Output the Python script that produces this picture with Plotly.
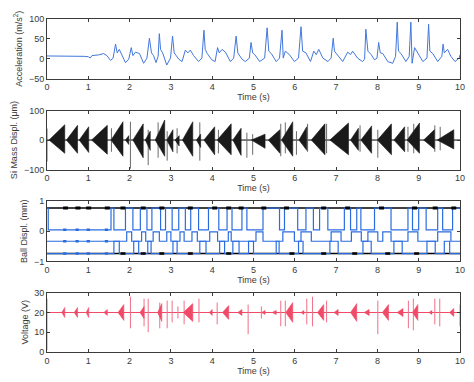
import plotly.graph_objects as go

# ---------------- Panel 1: acceleration (m/s^2) ----------------
acc_t = [0.00, 0.30, 0.60, 0.90, 1.00, 1.05, 1.09, 1.25, 1.37, 1.45,
         1.54, 1.60, 1.66, 1.70, 1.75, 1.82, 1.90, 1.98, 2.04, 2.08,
         2.14, 2.24, 2.34, 2.42, 2.48, 2.53, 2.58, 2.64, 2.69, 2.72,
         2.75, 2.80, 2.90, 2.99, 3.04, 3.08, 3.12, 3.19, 3.27, 3.35,
         3.41, 3.47, 3.55, 3.67, 3.75, 3.80, 3.83, 3.88, 3.99, 4.07,
         4.13, 4.17, 4.24, 4.32, 4.44, 4.52, 4.58, 4.62, 4.72, 4.80,
         4.90, 4.94, 4.98, 5.03, 5.15, 5.27, 5.33, 5.37, 5.43, 5.55,
         5.63, 5.69, 5.72, 5.77, 5.87, 5.99, 6.09, 6.15, 6.19, 6.27,
         6.38, 6.46, 6.52, 6.58, 6.68, 6.80, 6.88, 6.93, 6.96, 7.02,
         7.16, 7.28, 7.35, 7.40, 7.52, 7.64, 7.69, 7.72, 7.77, 7.85,
         7.93, 7.99, 8.03, 8.07, 8.13, 8.25, 8.37, 8.44, 8.48, 8.51,
         8.57, 8.69, 8.77, 8.81, 8.84, 8.90, 8.98, 9.10, 9.20, 9.24,
         9.27, 9.34, 9.46, 9.56, 9.59, 9.62, 9.70, 9.78, 9.88, 9.98,
         10.0]
acc_v = [7.0, 7.0, 6.5, 6.0, 5.0, 2.0, 8.0, 9.6, 13.0, 8.0,
         -4.4, 1.6, 36.7, 14.8, 23.6, 7.8, -9.8, -1.0, 28.0, 7.8,
         16.5, 13.1, -11.5, 1.6, 51.6, 14.8, 7.8, -9.8, 6.0, 63.1,
         23.6, 14.8, -15.9, 1.6, 56.9, 14.8, 7.8, -1.0, -7.1, 21.8,
         14.8, 21.8, 7.8, -7.1, 1.6, 71.8, 23.6, 13.1, -2.7, -7.1,
         28.0, 14.8, 23.6, 16.5, -7.1, 1.6, 56.9, 14.8, -1.0, -7.1,
         1.6, 41.0, 14.8, 10.4, -7.1, 1.6, 77.9, 19.2, 13.1, -7.1,
         1.6, 71.8, 1.6, 19.2, 10.4, -7.1, 1.6, 80.6, 19.2, 14.8,
         -7.1, 19.2, 10.4, 23.6, 1.6, -7.1, 1.6, 51.6, 19.2, 10.4,
         -7.1, 16.5, 10.4, 19.2, 1.6, -7.1, -1.0, 74.4, 19.2, 10.4,
         -2.7, 1.6, 41.1, 14.8, 13.1, -7.1, -11.5, 6.0, 92.0, 19.2,
         13.1, -7.1, 6.0, 92.0, -11.5, 28.0, 14.8, -7.1, 1.6, 86.8,
         19.2, 13.1, -7.1, 6.0, 36.7, 14.8, 23.6, 6.0, -7.1, 1.6,
         10.0]

# ---------------- Panel 2: Si mass displacement (um) ----------------
si_start = [0.05, 0.47, 0.78, 1.08, 1.55, 1.90, 2.08, 2.38, 2.62, 2.90,
            3.10, 3.28, 3.62, 3.80, 4.12, 4.50, 4.95, 5.36, 5.68, 6.10,
            6.40, 6.85, 7.35, 7.60, 8.00, 8.40, 8.72, 9.12, 9.45]
si_peak = [0.43, 0.74, 1.01, 1.46, 1.84, 1.98, 2.33, 2.50, 2.85, 3.05,
           3.20, 3.53, 3.72, 4.06, 4.46, 4.70, 5.28, 5.64, 5.95, 6.29,
           6.73, 7.30, 7.54, 7.86, 8.34, 8.66, 9.02, 9.38, 9.85]
si_up = [52, 50, 45, 50, 62, 15, 55, 30, 68, 35,
         15, 62, 20, 45, 55, 40, 20, 35, 62, 45,
         55, 58, 40, 48, 55, 45, 58, 35, 35]
si_low = [-45, -45, -42, -48, -55, -15, -60, -35, -55, -40,
          -20, -55, -25, -50, -50, -52, -28, -45, -55, -35,
          -50, -50, -35, -45, -50, -40, -45, -30, -30]
si_spk_t = [0.00, 1.56, 2.02, 2.45, 2.69, 2.91, 3.15, 3.70, 4.15, 4.84,
            4.98, 5.66, 5.77, 6.04, 6.31, 6.77, 7.58, 8.01, 8.74, 8.88,
            9.39, 9.52]
si_spk_top = [39, 40, 62, 35, 60, 30, 40, 60, 35, 25,
              20, 55, 60, 30, 55, 55, 50, 35, 45, 55,
              50, 45]
si_spk_bot = [-73, -40, -97, -85, -60, -70, -45, -70, -45, -60,
              -50, -55, -45, -50, -40, -45, -40, -60, -40, -45,
              -40, -35]

# ---------------- Panel 3: ball displacement (mm) ----------------
wall_top, wall_bot = 0.77, -0.74
ball1_t = [0.00, 0.03, 1.55, 1.62, 1.90, 2.08, 2.26, 2.42, 2.54, 2.75,
           2.87, 3.03, 3.19, 3.35, 3.48, 3.67, 3.91, 4.16, 4.36, 4.48,
           4.72, 4.84, 5.23, 5.63, 5.75, 6.07, 6.27, 6.45, 6.60, 6.80,
           7.20, 7.35, 7.50, 7.60, 7.93, 8.33, 8.74, 8.85, 9.00, 9.18,
           9.46, 9.58, 9.82, 10.0]
ball1_y = [0.77, 0.05, 0.77, 0.05, 0.77, 0.05, 0.77, 0.05, 0.77, 0.05,
           0.77, 0.05, 0.77, 0.05, 0.77, 0.05, 0.77, 0.05, 0.77, 0.05,
           0.77, 0.05, 0.77, 0.05, 0.77, 0.05, 0.77, 0.05, 0.77, 0.05,
           0.77, 0.05, 0.77, 0.05, 0.77, 0.05, 0.77, 0.05, 0.77, 0.05,
           0.77, 0.05, 0.77, 0.77]
ball2_t = [0.00, 1.93, 2.05, 2.29, 2.39, 2.57, 2.72, 2.90, 3.00, 3.22,
           3.32, 3.51, 3.64, 3.94, 4.13, 4.39, 4.46, 5.06, 5.23, 5.71,
           5.99, 6.15, 6.40, 6.88, 7.12, 7.37, 7.61, 7.77, 8.01, 8.13,
           8.33, 8.74, 8.98, 9.46, 9.78, 10.0]
ball2_y = [-0.33, -0.02, -0.33, -0.02, -0.33, -0.02, -0.33, -0.02, -0.33, -0.02,
           -0.33, -0.02, -0.33, -0.02, -0.33, -0.02, -0.33, -0.02, -0.33, -0.02,
           -0.33, -0.02, -0.33, -0.02, -0.33, -0.02, -0.33, -0.02, -0.33, -0.02,
           -0.33, -0.02, -0.33, -0.02, -0.33, -0.33]
ball3_t = [0.00, 1.62, 1.75, 2.10, 2.22, 2.44, 2.52, 3.05, 3.15, 3.70,
           3.85, 4.18, 4.30, 4.50, 4.65, 4.88, 5.00, 5.55, 5.62, 6.09,
           6.20, 6.85, 7.05, 7.65, 7.85, 8.40, 8.60, 9.20, 9.40, 9.62,
           9.75, 10.0]
ball3_y = [-0.74, -0.33, -0.74, -0.33, -0.74, -0.33, -0.74, -0.33, -0.74, -0.33,
           -0.74, -0.33, -0.74, -0.33, -0.74, -0.33, -0.74, -0.33, -0.74, -0.33,
           -0.74, -0.33, -0.74, -0.33, -0.74, -0.33, -0.74, -0.33, -0.74, -0.33,
           -0.74, -0.74]
top_beads = [0.45, 0.75, 1.01, 1.46, 1.84, 2.33, 2.78, 3.47, 4.06, 4.40,
             4.70, 5.25, 5.80, 6.70, 7.28, 8.10, 8.90, 9.40, 9.85]
bot_beads = [1.84, 2.33, 2.78, 3.47, 4.40, 5.93, 6.70, 7.45, 8.25, 8.95]
blue_beads = [0.43, 0.73, 1.00, 1.44]

# ---------------- Panel 4: voltage (V) ----------------
v_base = 20
v_start = [0.36, 0.66, 0.95, 1.38, 1.72, 2.25, 2.68, 3.30, 3.93, 4.25,
           4.62, 5.20, 5.45, 5.78, 6.15, 6.55, 6.95, 7.35, 7.68, 8.12,
           8.48, 8.85, 9.25, 9.75]
v_peak = [0.43, 0.74, 1.01, 1.46, 1.86, 2.35, 2.78, 3.53, 4.00, 4.40,
          4.72, 5.28, 5.55, 5.95, 6.22, 6.70, 7.05, 7.50, 7.80, 8.27,
          8.62, 8.98, 9.32, 9.85]
v_amp = [2.5, 2.5, 2.5, 1.5, 4.0, 3.0, 4.5, 4.5, 1.5, 3.5,
         1.5, 1.0, 1.0, 5.0, 1.0, 4.0, 1.5, 4.5, 1.5, 4.0,
         2.0, 4.0, 1.0, 2.0]
v_spk_t = [0.00, 2.02, 2.35, 2.45, 2.73, 2.91, 3.03, 3.17, 3.32, 3.68,
           4.12, 4.87, 5.19, 5.66, 5.77, 6.29, 6.43, 6.77, 8.01, 8.75,
           8.87, 9.39, 9.51, 10.0]
v_spk_top = [27, 28, 27, 27, 25, 26, 26, 23, 26, 27,
             25, 24, 23, 26, 26, 27, 28, 26, 26, 26,
             27, 27, 27, 24]
v_spk_bot = [1, 12, 13, 10, 12, 12, 15, 17, 14, 15,
             14, 9, 17, 13, 13, 14, 13, 15, 9, 12,
             11, 14, 13, 13]

x_ticks = [0, 1, 2, 3, 4, 5, 6, 7, 8, 9, 10]
y_titles = ["Acceleration (m/s<sup>2</sup>)", "Si Mass Displ. (μm)",
            "Ball Displ. (mm)", "Voltage (V)"]
y_ranges = [[-50, 100], [-100, 100], [-1, 1], [0, 30]]
y_ticks = [[-50, 0, 50, 100], [-100, 0, 100], [-1, 0, 1], [0, 10, 20, 30]]
domains = [[0.821, 1.0], [0.548, 0.725], [0.272, 0.453], [0.0, 0.178]]

BLUE = "#4277dc"
BALL = "#2a6ce0"
RED = "#f04a68"


def tri_polys(starts, peaks, ups, lows, base):
    xs, ys = [], []
    for s, p, u, l in zip(starts, peaks, ups, lows):
        xs += [s, p, p, s, None]
        ys += [base, base + u, base + l, base, None]
    return xs, ys


def segs(ts, tops, bots):
    xs, ys = [], []
    for t, a, b in zip(ts, tops, bots):
        xs += [t, t, None]
        ys += [b, a, None]
    return xs, ys


def beads(ts, level, half=0.06):
    xs, ys = [], []
    for t in ts:
        xs += [t - half, t + half, None]
        ys += [level, level, None]
    return xs, ys


fig = go.Figure()

# panel 1
fig.add_trace(go.Scatter(x=acc_t, y=acc_v, mode="lines",
                         line=dict(color=BLUE, width=1), xaxis="x", yaxis="y"))

# panel 2
fig.add_trace(go.Scatter(x=[0, 10], y=[0, 0], mode="lines",
                         line=dict(color="black", width=1), xaxis="x2", yaxis="y2"))
sx, sy = segs(si_spk_t, si_spk_top, si_spk_bot)
fig.add_trace(go.Scatter(x=sx, y=sy, mode="lines",
                         line=dict(color="#6a6a6a", width=1), xaxis="x2", yaxis="y2"))
px_, py_ = tri_polys(si_start, si_peak, si_up, si_low, 0)
fig.add_trace(go.Scatter(x=px_, y=py_, mode="lines", fill="toself",
                         fillcolor="#1a1a1a", line=dict(color="#1a1a1a", width=0.6),
                         xaxis="x2", yaxis="y2"))

# panel 3
fig.add_trace(go.Scatter(x=[0, 10], y=[wall_top, wall_top], mode="lines",
                         line=dict(color="black", width=1.5), xaxis="x3", yaxis="y3"))
fig.add_trace(go.Scatter(x=[0, 10], y=[wall_bot, wall_bot], mode="lines",
                         line=dict(color="black", width=1.5), xaxis="x3", yaxis="y3"))
for bt, by in [(ball1_t, ball1_y), (ball2_t, ball2_y), (ball3_t, ball3_y)]:
    fig.add_trace(go.Scatter(x=bt, y=by, mode="lines", line_shape="hv",
                             line=dict(color=BALL, width=1.2), xaxis="x3", yaxis="y3"))
for lvl in [0.05, -0.33, -0.74]:
    bx, by = beads(blue_beads, lvl, 0.04)
    fig.add_trace(go.Scatter(x=bx, y=by, mode="lines",
                             line=dict(color=BALL, width=2.5), xaxis="x3", yaxis="y3"))
bx, by = beads(top_beads, wall_top)
fig.add_trace(go.Scatter(x=bx, y=by, mode="lines",
                         line=dict(color="black", width=3), xaxis="x3", yaxis="y3"))
bx, by = beads(bot_beads, wall_bot)
fig.add_trace(go.Scatter(x=bx, y=by, mode="lines",
                         line=dict(color="black", width=2.5), xaxis="x3", yaxis="y3"))

# panel 4
fig.add_trace(go.Scatter(x=[0, 10], y=[v_base, v_base], mode="lines",
                         line=dict(color=RED, width=1.2), xaxis="x4", yaxis="y4"))
vx, vy = segs(v_spk_t, v_spk_top, v_spk_bot)
fig.add_trace(go.Scatter(x=vx, y=vy, mode="lines",
                         line=dict(color="#f07088", width=1), xaxis="x4", yaxis="y4"))
vpx, vpy = tri_polys(v_start, v_peak, v_amp, [-a for a in v_amp], v_base)
fig.add_trace(go.Scatter(x=vpx, y=vpy, mode="lines", fill="toself",
                         fillcolor=RED, line=dict(color=RED, width=0.6),
                         xaxis="x4", yaxis="y4"))

AX = "#3a3a3a"
FONT = dict(family="Liberation Sans, Arial, sans-serif", size=9, color="#3a3a3a")
# the page body has an 8 px margin: the figure is drawn from (8, 8) to the window edge
layout = dict(
    width=466, height=374, showlegend=False,
    paper_bgcolor="white", plot_bgcolor="white",
    margin=dict(l=38, r=14, t=6, b=30),
    font=FONT,
)
for i in range(4):
    sfx = "" if i == 0 else str(i + 1)
    layout["xaxis" + sfx] = dict(
        domain=[0, 1], range=[0, 10], anchor="y" + sfx,
        tickvals=x_ticks, ticks="inside", ticklen=3, tickcolor=AX,
        showline=True, linecolor=AX, linewidth=1, mirror="ticks",
        showgrid=False, zeroline=False, tickfont=FONT,
        title=dict(text="Time (s)", font=FONT, standoff=0),
    )
    layout["yaxis" + sfx] = dict(
        domain=domains[i], range=y_ranges[i], anchor="x" + sfx,
        tickvals=y_ticks[i], ticks="inside", ticklen=3, tickcolor=AX,
        showline=True, linecolor=AX, linewidth=1, mirror="ticks",
        showgrid=False, zeroline=False, tickfont=FONT,
        title=dict(text=y_titles[i], font=FONT, standoff=4),
    )
fig.update_layout(**layout)
fig.write_html("out.html")
